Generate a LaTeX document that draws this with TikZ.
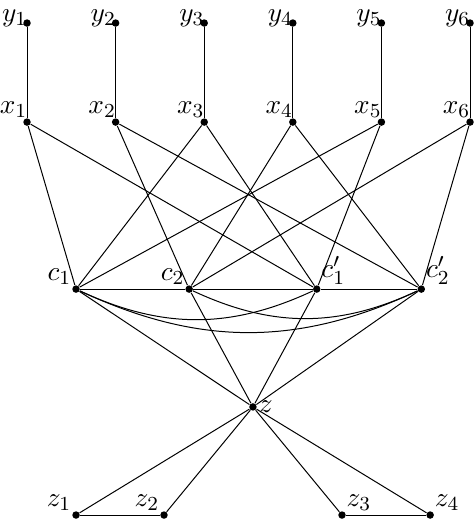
\documentclass[tikz,border=0pt]{standalone}
\begin{document}
\begin{tikzpicture}[x=1.25cm,y=1.25cm,
  font=\fontsize{11}{13}\selectfont,
  vertex/.style={circle,fill,inner sep=0pt,minimum size=3pt},
  every label/.style={inner sep=0.5pt}]
\useasboundingbox (-0.305,-0.056) rectangle (5.045,5.813);

% y and x rows
\foreach \i in {1,...,6}{
  \node[vertex,label={[yshift=-3.5pt,xshift=2pt]above left:$y_{\i}$}] (y\i) at (\i-1,5.553) {};
  \node[vertex,label={[xshift=2pt]above left:$x_{\i}$}] (x\i) at (\i-1,4.435) {};
  \draw (y\i) -- (x\i);
}

% the c row and z
\node[vertex,label={above left:$c_1$}] (c1) at (0.553,2.55) {};
\node[vertex,label={above left:$c_2$}] (c2) at (1.83,2.55) {};
\node[vertex,label={above right:$c_1'$}] (c1p) at (3.27,2.55) {};
\node[vertex,label={above right:$c_2'$}] (c2p) at (4.45,2.55) {};
\node[vertex,label={right:$z$}] (z) at (2.55,1.22) {};

% bottom row
\node[vertex,label={above left:$z_1$}] (z1) at (0.553,0) {};
\node[vertex,label={above left:$z_2$}] (z2) at (1.546,0) {};
\node[vertex,label={above right:$z_3$}] (z3) at (3.555,0) {};
\node[vertex,label={above right:$z_4$}] (z4) at (4.55,0) {};

\foreach \i in {1,3,5} \draw (x\i) -- (c1) (x\i) -- (c1p);
\foreach \i in {2,4,6} \draw (x\i) -- (c2) (x\i) -- (c2p);

\draw (c1) -- (c2) -- (c1p) -- (c2p);
\draw (c1) to[bend right=25] (c1p);
\draw (c2) to[bend right=25] (c2p);
\draw (c1) to[bend right=25] (c2p);

\foreach \n in {c1,c2,c1p,c2p,z1,z2,z3,z4} \draw (\n) -- (z);
\draw (z1) -- (z2) (z3) -- (z4);
\end{tikzpicture}
\end{document}
